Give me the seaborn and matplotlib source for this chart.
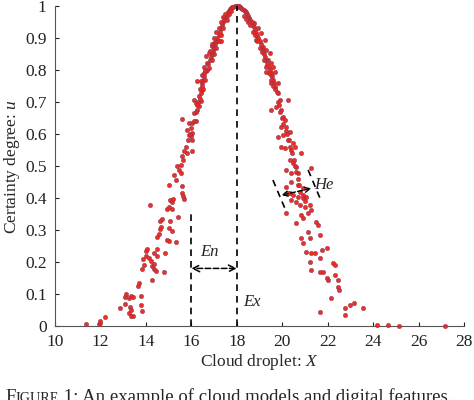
import matplotlib
matplotlib.use("Agg")
import matplotlib.pyplot as plt
import seaborn as sns
import numpy as np
import pandas as pd

sns.set_style("ticks")
plt.rcParams['font.family'] = ['Liberation Serif', 'DejaVu Serif']
plt.rcParams['mathtext.fontset'] = 'custom'
plt.rcParams['mathtext.rm'] = 'Liberation Serif'
plt.rcParams['mathtext.it'] = 'Liberation Serif:italic'

# cloud droplets (x, certainty degree u)
left_x = [11.36, 11.93, 12.0, 12.0, 12.19, 12.87, 13.07, 13.1, 13.14, 13.26, 13.36, 13.43,
          13.29, 13.36, 13.24, 13.36, 13.43, 13.79, 13.81, 13.64, 13.71, 13.79, 13.81,
          13.93, 13.86, 14.0, 14.07, 14.0, 14.14, 14.21, 14.19, 14.29, 14.36, 14.36, 14.43,
          14.26, 14.36, 14.47, 14.5, 14.57, 14.5, 14.61, 14.67, 14.64, 14.71, 14.79, 14.86,
          14.93, 15.0, 15.0, 15.07, 15.14, 14.93, 15.0, 15.07, 15.14, 15.21, 15.33, 15.43,
          15.67, 15.14,
          15.01, 15.24, 15.31, 15.38, 15.46, 15.53, 15.6, 15.65, 15.53, 15.6, 15.65, 15.6,
          15.57, 15.68, 15.83, 16.05, 15.9, 15.97, 16.05, 15.9, 16.05, 16.19, 15.83,
          16.12, 16.27, 16.34, 16.12, 16.19, 16.42, 16.42, 16.49, 16.27, 16.42, 16.49,
          16.49, 16.56, 16.64, 16.56, 16.71, 16.78, 16.64, 16.78, 16.93, 17.0, 17.15, 17.3,
          16.7, 16.75, 16.8, 16.85, 16.9, 16.95, 17.0, 17.05, 17.1, 17.15, 17.2, 17.25,
          17.3, 17.35, 17.4, 17.45, 17.5, 17.55, 17.6, 17.65, 17.7, 17.75, 17.8, 17.85,
          17.9, 17.95, 18.0,
          16.8, 16.9, 17.0, 17.1, 17.2, 17.3, 17.4, 17.5, 17.0, 16.9, 17.1, 17.2, 17.3,
          17.4, 17.55, 17.65, 17.75,
          16.3, 16.35, 16.4, 16.45, 16.5, 16.55, 16.6, 16.2, 16.25, 16.4, 16.5, 16.6,
          15.85, 15.95, 16.0, 16.1, 15.75, 16.05]
left_u = [0.005, 0.005, 0.01, 0.017, 0.027, 0.056, 0.07, 0.09, 0.10, 0.087, 0.093, 0.09,
          0.06, 0.05, 0.04, 0.03, 0.03, 0.066, 0.048, 0.124, 0.135, 0.095, 0.177,
          0.19, 0.21, 0.235, 0.24, 0.22, 0.214, 0.203, 0.379, 0.187, 0.193, 0.177, 0.172,
          0.145, 0.229, 0.219, 0.24, 0.287, 0.277, 0.303, 0.308, 0.329, 0.335, 0.168, 0.229,
          0.27, 0.266, 0.305, 0.329, 0.298, 0.366, 0.372, 0.394, 0.387, 0.398, 0.261, 0.34,
          0.398, 0.366,
          0.442, 0.473, 0.457, 0.499, 0.489, 0.504, 0.53, 0.52, 0.478, 0.437, 0.405, 0.415,
          0.648, 0.546, 0.54, 0.546, 0.598, 0.593, 0.603, 0.634, 0.634, 0.64, 0.614,
          0.666, 0.676, 0.686, 0.707, 0.697, 0.702, 0.728, 0.738, 0.765, 0.765, 0.76,
          0.785, 0.78, 0.796, 0.81, 0.822, 0.806, 0.843, 0.853, 0.874, 0.884, 0.89, 0.89,
          0.80, 0.82, 0.83, 0.84, 0.85, 0.86, 0.87, 0.88, 0.89, 0.90, 0.91, 0.92,
          0.93, 0.94, 0.95, 0.955, 0.965, 0.97, 0.98, 0.985, 0.99, 0.993, 0.996, 0.998,
          0.999, 1.0, 1.0,
          0.86, 0.88, 0.90, 0.92, 0.93, 0.95, 0.965, 0.975, 0.85, 0.83, 0.87, 0.89, 0.91,
          0.93, 0.955, 0.975, 0.985,
          0.70, 0.72, 0.74, 0.75, 0.77, 0.79, 0.80, 0.67, 0.69, 0.71, 0.74, 0.77,
          0.58, 0.60, 0.62, 0.64, 0.56, 0.58]

right_x = [18.04, 18.77, 18.92, 19.07, 18.85, 19.22, 19.14, 19.29, 19.44, 19.37, 19.51, 19.59,
           19.29, 19.51, 19.66, 19.51, 19.66, 19.81, 19.81, 19.88, 20.25, 19.51, 19.73, 19.96,
           20.03, 20.1, 19.96, 20.18, 20.32, 19.81, 20.03, 20.25, 20.47, 19.96, 20.1, 20.4,
           20.54, 20.84, 20.32, 20.47, 20.61, 20.18, 20.4, 20.69, 21.28, 20.4, 20.69, 20.91,
           20.18, 20.32, 21.06,
           20.25, 20.47, 20.69, 20.91, 20.4, 20.61, 20.18, 20.77, 20.99, 21.21, 20.84, 20.91,
           21.14, 21.28, 20.62, 21.5, 21.58, 21.14, 21.21, 21.65, 20.84, 20.91, 21.06, 21.28,
           21.43, 21.73, 21.95, 21.21, 21.65, 21.28, 21.65, 21.8, 22.24, 22.32, 21.95, 22.02,
           22.32, 22.46, 22.46, 22.49, 22.14, 22.76, 22.98, 23.17, 23.57, 21.65, 22.76,
           24.16, 24.67, 25.12, 27.18,
           18.05, 18.1, 18.15, 18.2, 18.25, 18.3, 18.35, 18.4, 18.45, 18.5, 18.55, 18.6,
           18.65, 18.7, 18.75, 18.8, 18.85, 18.9, 18.95, 19.0, 19.05, 19.1, 19.15, 19.2,
           19.25, 19.3, 19.35, 19.4, 19.45, 19.5, 19.55, 19.6, 19.65, 19.7, 19.75,
           18.5, 18.6, 18.7, 18.8, 18.9, 19.0, 19.1, 19.2, 19.3, 19.4, 19.5, 19.6, 18.4, 18.3,
           19.8, 19.85, 19.9, 20.0, 20.05, 20.15, 20.2, 20.3, 20.35, 20.45, 20.5, 20.55,
           20.6, 20.7, 20.75, 20.8, 20.9, 21.0]
right_u = [0.998, 0.946, 0.93, 0.915, 0.894, 0.894, 0.873, 0.863, 0.852, 0.831, 0.821, 0.81,
           0.795, 0.784, 0.795, 0.758, 0.748, 0.758, 0.727, 0.706, 0.706, 0.675, 0.685, 0.675,
           0.654, 0.644, 0.623, 0.623, 0.607, 0.592, 0.597, 0.581, 0.571, 0.56, 0.555, 0.55,
           0.56, 0.54, 0.519, 0.508, 0.498, 0.487, 0.477, 0.477, 0.493, 0.451, 0.441, 0.43,
           0.435, 0.415, 0.404,
           0.415, 0.409, 0.404, 0.409, 0.394, 0.389, 0.352, 0.378, 0.373, 0.378, 0.347, 0.336,
           0.352, 0.363, 0.321, 0.326, 0.316, 0.295, 0.274, 0.284, 0.274, 0.258, 0.232, 0.227,
           0.227, 0.237, 0.243, 0.201, 0.211, 0.175, 0.17, 0.17, 0.196, 0.191, 0.149, 0.144,
           0.159, 0.144, 0.123, 0.113, 0.089, 0.055, 0.066, 0.073, 0.055, 0.045, 0.034,
           0.003, 0.003, 0.0, 0.0,
           1.0, 0.999, 0.997, 0.995, 0.992, 0.988, 0.984, 0.98, 0.975, 0.97, 0.963, 0.955,
           0.95, 0.94, 0.935, 0.925, 0.915, 0.905, 0.90, 0.89, 0.88, 0.87, 0.86, 0.85,
           0.84, 0.83, 0.82, 0.81, 0.80, 0.79, 0.78, 0.77, 0.76, 0.74, 0.73,
           0.95, 0.94, 0.92, 0.91, 0.89, 0.87, 0.855, 0.83, 0.81, 0.79, 0.77, 0.75, 0.96, 0.97,
           0.70, 0.69, 0.67, 0.65, 0.63, 0.61, 0.60, 0.58, 0.56, 0.54, 0.52, 0.50,
           0.48, 0.46, 0.44, 0.42, 0.40, 0.39]

Ex, En = 18, 2
x_ticks = [10, 12, 14, 16, 18, 20, 22, 24, 26, 28]
y_ticks = [0, 0.1, 0.2, 0.3, 0.4, 0.5, 0.6, 0.7, 0.8, 0.9, 1]
y_ticklabels = ["0", "0.1", "0.2", "0.3", "0.4", "0.5", "0.6", "0.7", "0.8", "0.9", "1"]

df = pd.DataFrame({"x": left_x + right_x, "u": left_u + right_u})

fig = plt.figure(figsize=(4.74, 4.0), dpi=100)
ax = fig.add_axes([0.116, 0.185, 0.863, 0.80])

sns.scatterplot(data=df, x="x", y="u", ax=ax, s=10, color="#e8261f",
                edgecolor="#8c3a55", linewidth=0.35, alpha=0.95, clip_on=False, zorder=3)

dash = dict(color="black", lw=1.2, ls=(0, (4, 3)))
ax.plot([Ex, Ex], [0, 1], **dash, zorder=4)
ax.plot([Ex - En, Ex - En], [0, 0.356], **dash, zorder=4)
ax.annotate("", xy=(Ex - En, 0.18), xytext=(Ex, 0.18),
            arrowprops=dict(arrowstyle="<->", lw=1.1, ls="--", color="black",
                            shrinkA=0, shrinkB=0, mutation_scale=12))
ax.text(16.8, 0.23, "En", fontsize=12, style="italic", ha="center", va="center")
ax.text(18.3, 0.076, "Ex", fontsize=12, style="italic", ha="left", va="center")

# He markers
ax.plot([19.59, 20.18], [0.456, 0.357], **dash, zorder=4)
ax.plot([21.14, 21.73], [0.4875, 0.388], **dash, zorder=4)
ax.annotate("", xy=(19.96, 0.409), xytext=(21.28, 0.43),
            arrowprops=dict(arrowstyle="<->", lw=1.0, ls="--", color="black",
                            shrinkA=0, shrinkB=0, mutation_scale=9))
ax.text(21.4, 0.44, "He", fontsize=12, style="italic", ha="left", va="center")

ax.set_xlim(10, 28)
ax.set_ylim(0, 1)
ax.set_xticks(x_ticks)
ax.set_yticks(y_ticks)
ax.set_yticklabels(y_ticklabels)
ax.tick_params(direction="in", length=3, width=0.8, labelsize=12.5, colors="#222222",
               pad=6)
for s in ["top", "right"]:
    ax.spines[s].set_visible(False)
for s in ["left", "bottom"]:
    ax.spines[s].set_color("#555555")
    ax.spines[s].set_linewidth(0.8)

ax.set_xlabel("")
ax.set_ylabel("")
fig.text(0.5475, 1 - 362 / 400, "Cloud droplet: $X$", fontsize=12.5,
         ha="center", va="center")
fig.text(12 / 474, 0.5 + 0.185 / 2 - 0.01, "Certainty degree: $u$", fontsize=12.5,
         ha="center", va="center", rotation=90)

# caption in small caps
r = fig.canvas.get_renderer()
y0 = -0.004
x0 = 5 / 474
t1 = fig.text(x0, y0, "F", fontsize=13.5, va="baseline")
bb = t1.get_window_extent(r)
t2 = fig.text(bb.x1 / fig.bbox.width, y0, "IGURE", fontsize=10.2, va="baseline")
bb2 = t2.get_window_extent(r)
fig.text(bb2.x1 / fig.bbox.width, y0, " 1: An example of cloud models and digital features.",
         fontsize=13.5, va="baseline")

fig.savefig("out.png", dpi=100)
